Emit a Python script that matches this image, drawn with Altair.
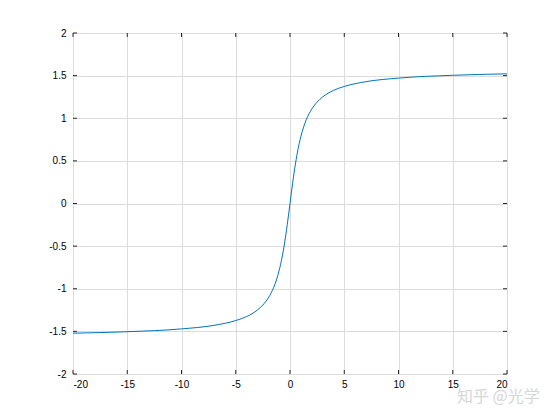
import altair as alt
import pandas as pd

# curve
xs = [-20, -15, -10, -7, -5, -4, -3, -2.5, -2, -1.75, -1.5, -1.25, -1, -0.75, -0.5, -0.25,
      0, 0.25, 0.5, 0.75, 1, 1.25, 1.5, 1.75, 2, 2.5, 3, 4, 5, 7, 10, 15, 20]
ys = [-1.521, -1.504, -1.471, -1.429, -1.373, -1.326, -1.249, -1.190, -1.107, -1.052, -0.983,
      -0.896, -0.785, -0.644, -0.464, -0.245,
      0.0, 0.245, 0.464, 0.644, 0.785, 0.896, 0.983, 1.052, 1.107, 1.190, 1.249, 1.326, 1.373,
      1.429, 1.471, 1.504, 1.521]

x_ticks = [-20, -15, -10, -5, 0, 5, 10, 15, 20]
y_ticks = [-2, -1.5, -1, -0.5, 0, 0.5, 1, 1.5, 2]

W, H = 434, 341
AX = "#262626"
FONT = "Liberation Sans"

df = pd.DataFrame({"x": xs, "y": ys})
xt = pd.DataFrame({"v": x_ticks})
yt = pd.DataFrame({"v": y_ticks})

xscale = alt.Scale(domain=[-20, 20], nice=False, zero=False)
yscale = alt.Scale(domain=[-2, 2], nice=False, zero=False)

line = alt.Chart(df).mark_line(color="#0072BD", strokeWidth=1, interpolate="monotone").encode(
    x=alt.X("x:Q", scale=xscale,
            axis=alt.Axis(values=x_ticks, title=None, grid=True, gridColor="#dcdcdc",
                          domain=False, ticks=False, labelPadding=5,
                          labelExpr="toString(datum.value)")),
    y=alt.Y("y:Q", scale=yscale,
            axis=alt.Axis(values=y_ticks, title=None, grid=True, gridColor="#dcdcdc",
                          domain=False, ticks=False, labelPadding=7,
                          labelExpr="toString(datum.value)")),
)

tick_len = 4
bt = alt.Chart(xt).mark_rule(color=AX, strokeWidth=1).encode(
    x=alt.X("v:Q", scale=xscale), y=alt.value(H), y2=alt.value(H - tick_len))
tt = alt.Chart(xt).mark_rule(color=AX, strokeWidth=1).encode(
    x=alt.X("v:Q", scale=xscale), y=alt.value(0), y2=alt.value(tick_len))
lt = alt.Chart(yt).mark_rule(color=AX, strokeWidth=1).encode(
    y=alt.Y("v:Q", scale=yscale), x=alt.value(0), x2=alt.value(tick_len))
rt = alt.Chart(yt).mark_rule(color=AX, strokeWidth=1).encode(
    y=alt.Y("v:Q", scale=yscale), x=alt.value(W), x2=alt.value(W - tick_len))

wm = alt.Chart(pd.DataFrame({"t": ["知乎 @光学"]})).mark_text(
    font="Noto Sans CJK SC", fontSize=16, color="#cfcfcf", opacity=0.85, align="left",
    baseline="middle").encode(text="t:N", x=alt.value(W - 50), y=alt.value(H + 23))

chart = alt.layer(line, bt, tt, lt, rt, wm).properties(
    width=W, height=H,
    autosize=alt.AutoSizeParams(type="none"),
    padding={"left": 65, "top": 25, "right": 45, "bottom": 40},
).configure_view(stroke=AX, strokeWidth=1).configure_axis(
    labelFont=FONT, labelFontSize=13, labelColor=AX
).configure(background="white")

chart.save("out.html", embed_options={"renderer": "svg", "actions": False})
